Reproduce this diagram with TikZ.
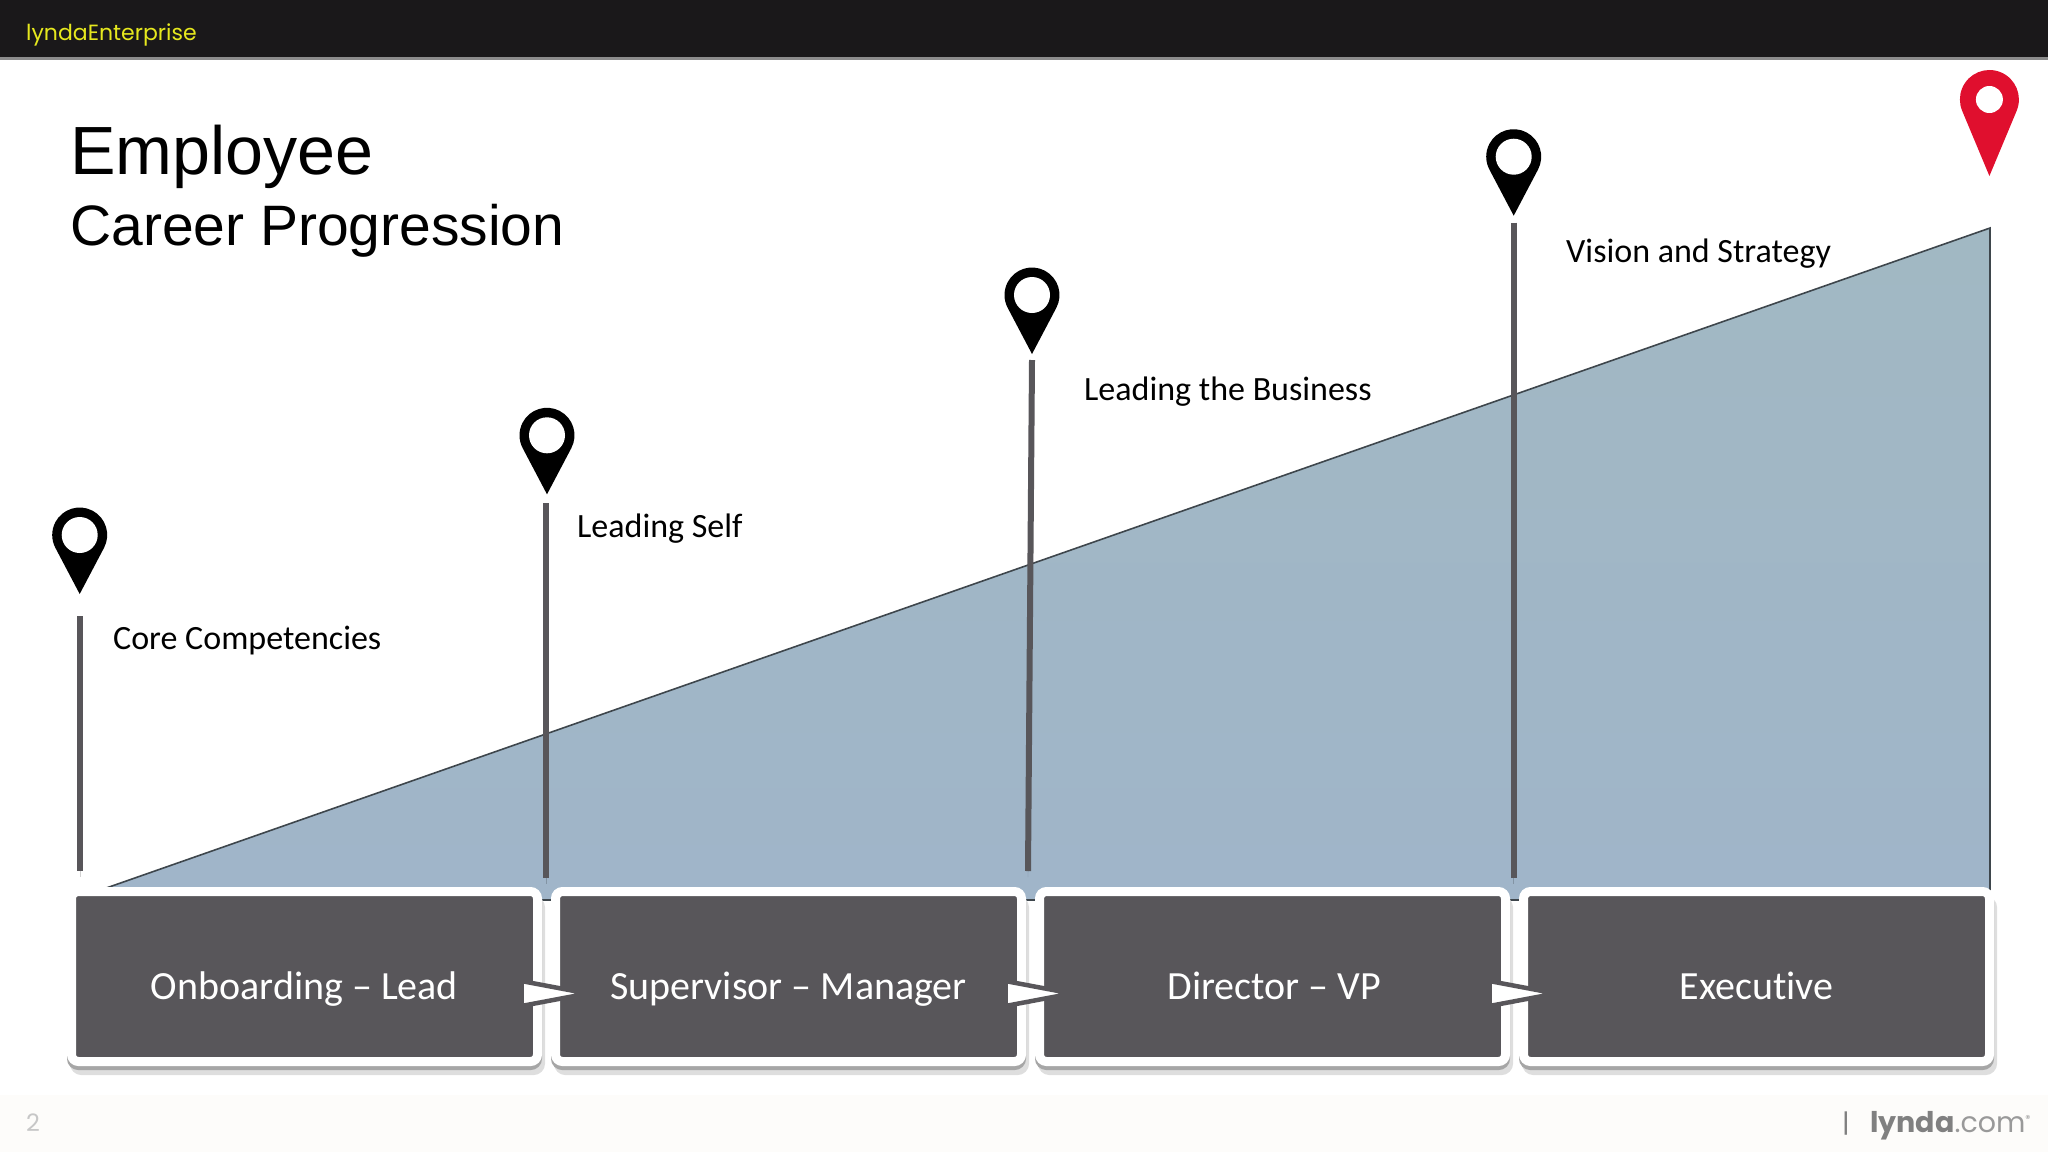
\documentclass[tikz,border=0pt]{standalone}
\usepackage{fontspec}
\setmainfont{Carlito}[Ligatures=NoCommon]
\newfontfamily\titlefont{Liberation Sans}
\newfontfamily\gothicfont{Poppins}
\usetikzlibrary{arrows.meta,positioning,shadows}

\definecolor{barblack}{HTML}{1A181A}
\definecolor{barlime}{HTML}{E6E81E}
\definecolor{boxgrey}{HTML}{58565A}
\definecolor{ramptop}{HTML}{A1B8C3}
\definecolor{rampfoot}{HTML}{A0B5C9}
\definecolor{rampedge}{HTML}{3E464C}
\definecolor{pinred}{HTML}{E00F2E}
\definecolor{footcream}{HTML}{FDFCFA}

\tikzset{
	x=1pt,y=1pt,
	levelbox/.style={rectangle,rounded corners=7pt,draw=white,fill=boxgrey,line width=9pt,
		minimum width=466pt,minimum height=170pt,text=white,font=\fontsize{40}{44}\selectfont,
		text height=45pt,text depth=0pt,inner sep=0pt,
		general shadow={shadow xshift=3pt,shadow yshift=-9pt,fill=black!13,draw=black!13,line width=9pt},
		general shadow={shadow xshift=0pt,shadow yshift=-4pt,fill=black!35,draw=black!35,line width=9pt}},
	steplabel/.style={anchor=base west,inner sep=0pt,font=\fontsize{34}{40}\selectfont},
	stemline/.style={draw=boxgrey,line width=6pt,
		preaction={draw=black,opacity=.18,transform canvas={yshift=-6pt}}},
	nextarrow/.style={line width=.1pt,draw=boxgrey,shorten >=-49.4pt,
		-{Triangle[length=81pt,width=29pt,line width=4.5pt,color=boxgrey,fill=white]}},
	pics/mappin/.style n args={3}{code={
		\pgfmathsetmacro\pinturn{acos(#1/#2)}
		\fill[pic actions] (0,0) -- ([shift={(0,#2)}]\pinturn-90:#1)
			arc[start angle=\pinturn-90,end angle=270-\pinturn,radius=#1] -- cycle;
		\fill[white] (0,#2) circle[radius=#3];
	}},
}

\begin{document}
\begin{tikzpicture}
	\useasboundingbox (0,0) rectangle (2048,-1152);

	% footer and top bar
	\fill[footcream] (0,-1095) rectangle (2048,-1152);
	\fill[black!45] (0,0) rectangle (2048,-60);
	\fill[barblack] (0,0) rectangle (2048,-57);
	\node[anchor=base west,inner sep=0pt,text=barlime,font=\gothicfont\fontsize{22}{30}\selectfont] (brand) at (26,-40) {lyndaEnterprise};

	% title
	\node[anchor=base west,inner sep=0pt,font=\titlefont\fontsize{68.2}{70}\selectfont] (title) at (70,-174) {Employee};
	\node[anchor=base west,inner sep=0pt,font=\titlefont\fontsize{57}{60}\selectfont] (subtitle) at (70,-245) {Career Progression};

	% ramp
	\draw[rampedge,line width=1.6pt,top color=ramptop,bottom color=rampfoot,line join=miter]
		(72,-900) -- (1990,-228) -- (1990,-900) -- cycle;

	% levels
	\node[levelbox] (onboard) at (304.5,-976.5) {Onboarding – Lead};
	\node[levelbox] (super) [right=9pt of onboard] {Supervisor – Manager};
	\node[levelbox] (director) [right=9pt of super] {\hspace{4pt}Director – VP};
	\node[levelbox] (exec) [right=9pt of director] {Executive};

	\draw[nextarrow] ([xshift=-45pt,yshift=-17pt]onboard.east) -- ([yshift=-17pt]super.west);
	\draw[nextarrow] ([xshift=-45pt,yshift=-17pt]super.east) -- ([yshift=-17pt]director.west);
	\draw[nextarrow] ([xshift=-45pt,yshift=-17pt]director.east) -- ([yshift=-17pt]exec.west);

	% stems
	\coordinate (top1) at (79.7,-616);
	\coordinate (foot1) at (79.7,-871);
	\coordinate (top2) at (546,-503);
	\coordinate (foot2) at (546,-878);
	\coordinate (top3) at (1032,-360);
	\coordinate (foot3) at (1028,-871);
	\coordinate (top4) at (1513.5,-222.7);
	\coordinate (foot4) at (1513.5,-878);
	\path[stemline] (top1) -- (foot1);
	\path[stemline] (top2) -- (foot2);
	\path[stemline] (top3) -- (foot3);
	\path[stemline] (top4) -- (foot4);

	% pins
	\pic[black] at (79.7,-594) {mappin={27.5}{59}{18}};
	\pic[black] at (547,-494.3) {mappin={27.5}{59}{18}};
	\pic[black] at (1032,-354) {mappin={27.5}{59}{18}};
	\pic[black] at (1513.7,-215.7) {mappin={27.5}{59}{18}};
	\pic[pinred] at (1989.4,-176) {mappin={29.5}{76.5}{13.5}};

	% labels
	\node[steplabel] (core) at (113,-649) {Core Competencies};
	\node[steplabel] (self) at (577,-537) {Leading Self};
	\node[steplabel] (business) at (1084,-400) {Leading the Business};
	\node[steplabel] (vision) at (1566,-262) {Vision and Strategy};

	% footer text
	\node[anchor=base west,inner sep=0pt,text=black!22,font=\gothicfont\fontsize{24}{28}\selectfont] (pageno) at (26,-1131) {2};
	\node[anchor=base west,inner sep=0pt,text=black!50,font=\gothicfont\fontsize{26}{30}\selectfont] (rule) at (1842,-1132) {|};
	\node[anchor=base west,inner sep=0pt,text=black!50,font=\gothicfont\fontsize{28.5}{36}\selectfont] (logo) at (1870,-1132)
		{\textbf{lynda}\textcolor{black!40}{.com\raisebox{10pt}{\fontsize{10}{10}\selectfont ®}}};
\end{tikzpicture}
\end{document}
